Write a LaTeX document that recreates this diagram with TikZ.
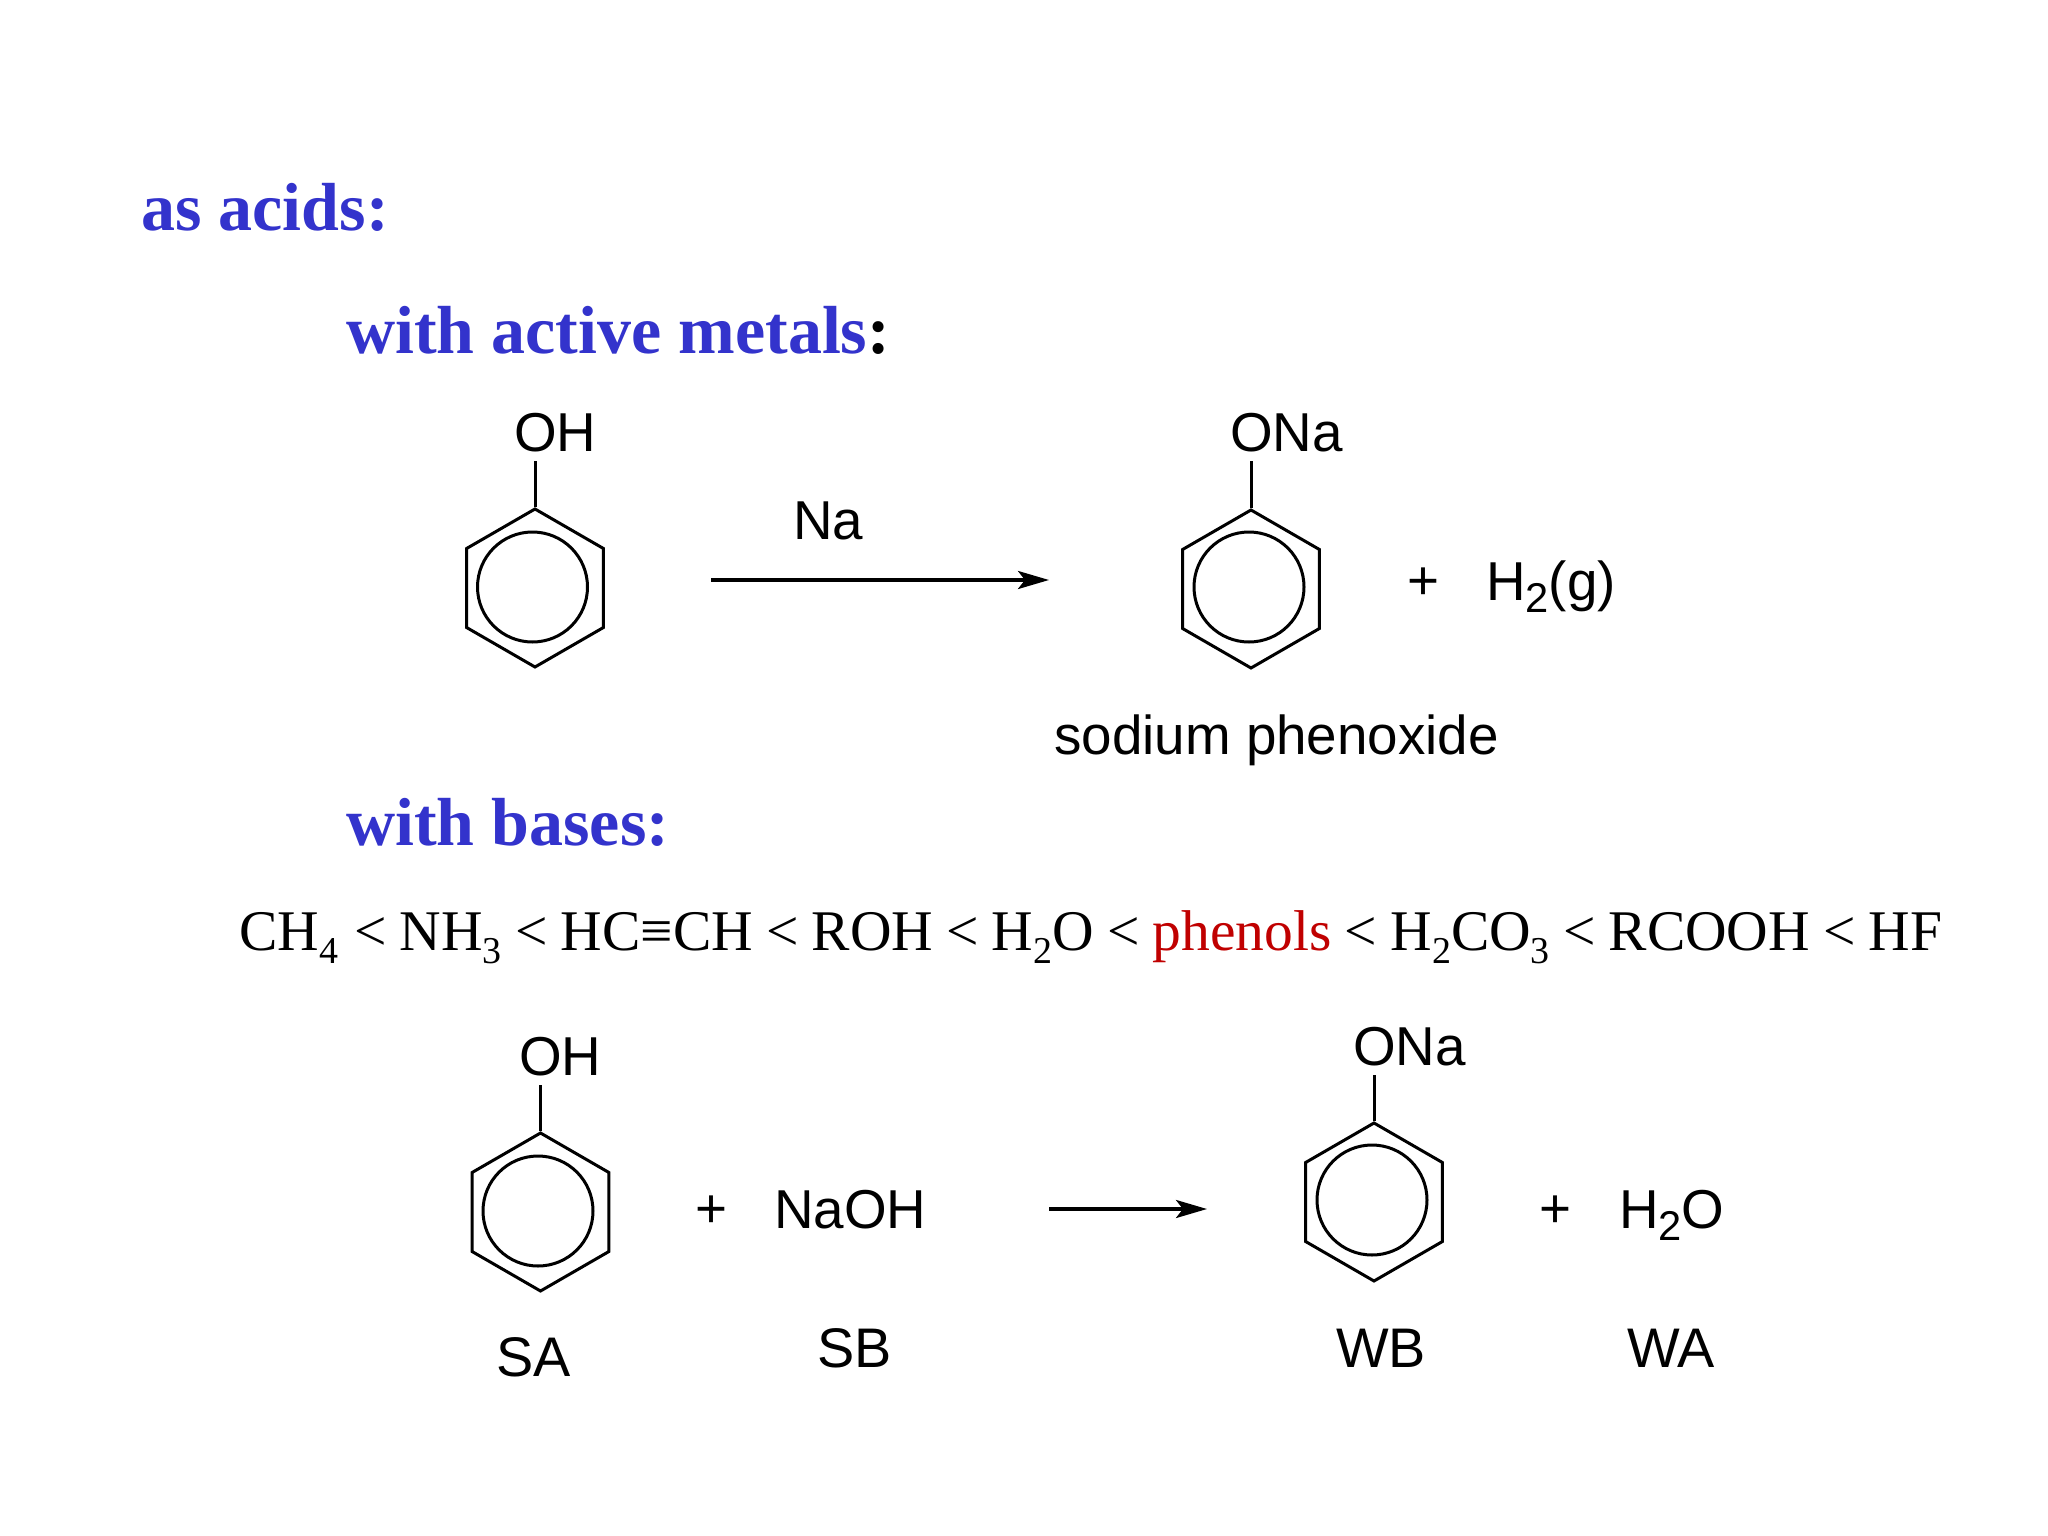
\documentclass[tikz,border=0pt]{standalone}
\usepackage{fontspec}
\setmainfont{Liberation Serif}
\setsansfont{Liberation Sans}
\usetikzlibrary{shapes.geometric,arrows.meta}
\definecolor{headblue}{RGB}{51,51,204}
\definecolor{phenred}{RGB}{192,0,0}
\newcommand{\sbs}[1]{\raisebox{-0.22em}{\fontsize{0.76em}{0.8em}\selectfont #1}}
\newcommand{\sbc}[1]{\raisebox{-0.22em}{\fontsize{0.66em}{0.7em}\selectfont #1}}
\newcommand{\tightsp}{\spaceskip=13.2pt\relax}
\tikzset{
  x=1pt,y=-1pt,
  head/.style={anchor=base west,inner sep=0pt,font=\fontsize{68}{70}\selectfont\bfseries\rmfamily,text=headblue},
  chem/.style={anchor=base west,inner sep=0pt,font=\fontsize{54.8}{58}\selectfont\sffamily,text=black},
  caps/.style={chem,font=\fontsize{55.8}{58}\selectfont\sffamily},
  plusop/.style={anchor=base,inner sep=0pt,font=\fontsize{54.8}{58}\selectfont\sffamily,text=black},
  chain/.style={anchor=base west,inner sep=0pt,font=\fontsize{57.5}{62}\selectfont\rmfamily,text=black},
  ring/.style={regular polygon,regular polygon sides=6,shape border rotate=30,draw=black,line width=3pt,minimum size=158pt,inner sep=0pt,line join=miter},
  inring/.style={circle,draw=black,line width=3pt,minimum size=110pt,inner sep=0pt},
  bond/.style={draw=black,line width=3pt},
  rarrow/.style={draw=black,line width=3.6pt,-{Stealth[length=31pt,width=18pt,inset=7pt]}}
}
\begin{document}
\begin{tikzpicture}
\useasboundingbox (0,0) rectangle (2048,1536);
\fill[white] (0,0) rectangle (2048,1536);
% headings
\node[head] (h1) at (141,230) {as acids:};
\node[head] (h2) at (346,353) {with active metals\textcolor{black}{:}};
\node[head] (h3) at (346,845) {with bases:};
% first reaction
\node[ring] (r1) at (535,588) {};
\node[inring] (c1) at (532.5,587) {};
\node[chem] (oh1) at (514,451.5) {OH};
\coordinate (b1) at (535,461);
\draw[bond] (r1.corner 1) -- (b1);
\node[chem] (na) at (793,539.5) {Na};
\coordinate (a1s) at (711,580);
\coordinate (a1e) at (1049,580);
\draw[rarrow] (a1s) -- (a1e);
\node[ring] (r2) at (1251,589) {};
\node[inring] (c2) at (1249,587) {};
\node[chem] (ona1) at (1230,451.5) {ONa};
\coordinate (b2) at (1251,461);
\draw[bond] (r2.corner 1) -- (b2);
\node[plusop] (p1) at (1423,599) {+};
\node[chem] (h2g) at (1486,600) {H\sbs{2}(g)};
\node[chem] (sp) at (1054,754.5) {sodium phenoxide};
% acidity series
\node[chain] (series) at (239,950.5) {\tightsp CH\sbc{4}\kern3pt{} < NH\sbc{3} < HC≡CH < ROH < H\sbc{2}O < \textcolor{phenred}{phenols} < H\sbc{2}CO\sbc{3} < RCOOH < HF};
% second reaction
\node[ring] (r3) at (540.5,1212) {};
\node[inring] (c3) at (538,1211) {};
\node[chem] (oh2) at (519,1075) {OH};
\coordinate (b3) at (540.5,1085);
\draw[bond] (r3.corner 1) -- (b3);
\node[plusop] (p2) at (711,1227) {+};
\node[chem] (naoh) at (774,1228) {NaOH};
\coordinate (a2s) at (1049,1209);
\coordinate (a2e) at (1207,1209);
\draw[rarrow] (a2s) -- (a2e);
\node[ring] (r4) at (1374,1202) {};
\node[inring] (c4) at (1372,1200) {};
\node[chem] (ona2) at (1353,1065) {ONa};
\coordinate (b4) at (1374,1075);
\draw[bond] (r4.corner 1) -- (b4);
\node[plusop] (p3) at (1555,1227) {+};
\node[chem] (h2o) at (1619,1228) {H\sbs{2}O};
\node[caps] (sa) at (496,1376) {SA};
\node[caps] (sb) at (817,1367) {SB};
\node[caps] (wb) at (1336,1367) {WB};
\node[caps] (wa) at (1627,1367) {WA};
\end{tikzpicture}
\end{document}
